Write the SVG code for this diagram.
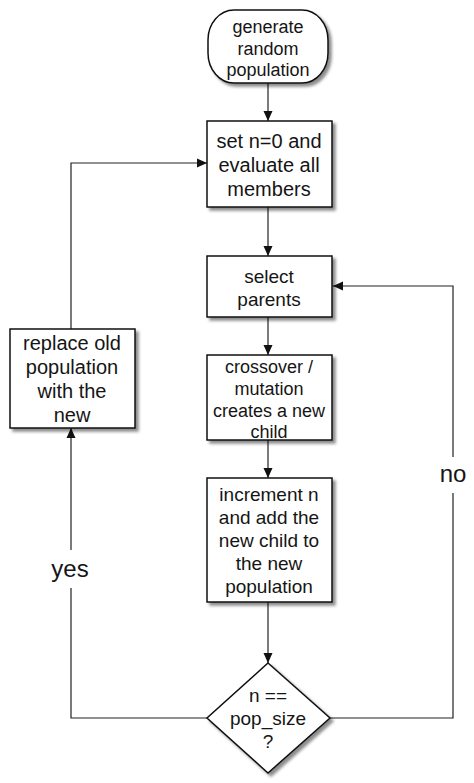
<svg xmlns="http://www.w3.org/2000/svg" width="474" height="783" viewBox="0 0 474 783">
<defs>
<filter id="sh" x="-10%" y="-10%" width="130%" height="130%">
<feDropShadow dx="3" dy="3" stdDeviation="1.8" flood-color="#000" flood-opacity="0.45"/>
</filter>
<marker id="ah" viewBox="0 0 10 10" refX="10" refY="5" markerWidth="10" markerHeight="10" markerUnits="userSpaceOnUse" orient="auto">
<path d="M0,0.5 L10,5 L0,9.5 Z" fill="#111"/>
</marker>
</defs>
<style>
.n{fill:#fff;stroke:#111;stroke-width:1.5;filter:url(#sh)}
.t{font-family:"Liberation Sans",Arial,sans-serif;fill:#151515;text-anchor:middle}
.c{fill:none;stroke:#222;stroke-width:1.2}
.l{font-family:"Liberation Sans",Arial,sans-serif;fill:#151515;font-size:24px;text-anchor:middle}
</style>
<rect width="474" height="783" fill="#fff"/>
<g id="connectors">
<path class="c" d="M268,83 V121" marker-end="url(#ah)"/>
<path class="c" d="M268,207 V256" marker-end="url(#ah)"/>
<path class="c" d="M268,317 V355" marker-end="url(#ah)"/>
<path class="c" d="M268,440 V478" marker-end="url(#ah)"/>
<path class="c" d="M268,602 V663" marker-end="url(#ah)"/>
<path class="c" d="M207,718 H71 V588"/>
<path class="c" d="M71,550 V428" marker-end="url(#ah)"/>
<path class="c" d="M71,329 V163 H207" marker-end="url(#ah)"/>
<path class="c" d="M330,718 H453 V493"/>
<path class="c" d="M453,457 V286 H333" marker-end="url(#ah)"/>
<text class="l" x="70" y="577">yes</text>
<text class="l" x="453" y="482">no</text>
</g>
<g id="start">
<rect class="n" x="208" y="10" width="120" height="73" rx="26" ry="30"/>
<text class="t" font-size="18" x="268" y="33">generate</text>
<text class="t" font-size="18" x="268" y="55">random</text>
<text class="t" font-size="18" x="268" y="76">population</text>
</g>
<g id="init">
<rect class="n" x="207" y="121" width="125" height="86"/>
<text class="t" font-size="20" x="269" y="148">set n=0 and</text>
<text class="t" font-size="20" x="269" y="172">evaluate all</text>
<text class="t" font-size="20" x="269" y="196">members</text>
</g>
<g id="select">
<rect class="n" x="207" y="256" width="125" height="61"/>
<text class="t" font-size="19" x="269" y="283">select</text>
<text class="t" font-size="19" x="269" y="306">parents</text>
</g>
<g id="crossover">
<rect class="n" x="207" y="355" width="125" height="85"/>
<text class="t" font-size="18" x="269" y="373">crossover /</text>
<text class="t" font-size="18" x="269" y="395">mutation</text>
<text class="t" font-size="18" x="269" y="417">creates a new</text>
<text class="t" font-size="18" x="269" y="438">child</text>
</g>
<g id="increment">
<rect class="n" x="207" y="478" width="125" height="124"/>
<text class="t" font-size="19" x="269" y="501">increment n</text>
<text class="t" font-size="19" x="269" y="524">and add the</text>
<text class="t" font-size="19" x="269" y="547">new child to</text>
<text class="t" font-size="19" x="269" y="570">the new</text>
<text class="t" font-size="19" x="269" y="593">population</text>
</g>
<g id="decision">
<polygon class="n" points="268,663 330,718 268,773 207,718"/>
<text class="t" font-size="19" x="268" y="702">n ==</text>
<text class="t" font-size="19" x="268" y="725">pop_size</text>
<text class="t" font-size="19" x="268" y="748">?</text>
</g>
<g id="replace">
<rect class="n" x="10" y="329" width="125" height="99"/>
<text class="t" font-size="20" x="72" y="350">replace old</text>
<text class="t" font-size="20" x="72" y="374">population</text>
<text class="t" font-size="20" x="72" y="398">with the</text>
<text class="t" font-size="20" x="72" y="422">new</text>
</g>
</svg>
